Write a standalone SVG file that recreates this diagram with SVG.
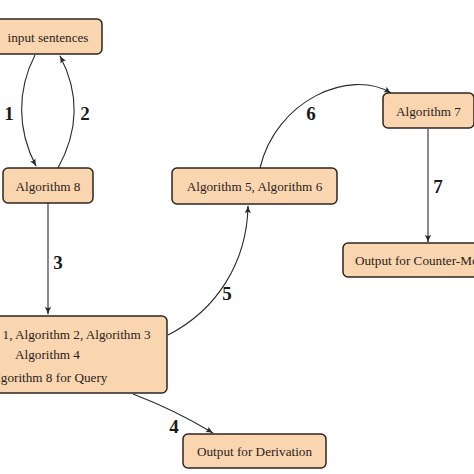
<svg xmlns="http://www.w3.org/2000/svg" width="474" height="474" viewBox="0 0 474 474">
<defs>
<style>
.box{fill:#F9D6AF;stroke:#2e2520;stroke-width:1.5}
.t{font-family:"Liberation Serif","DejaVu Serif",serif;font-size:13.2px;fill:#2a211c;text-anchor:middle}
.n{font-family:"Liberation Serif","DejaVu Serif",serif;font-size:19px;font-weight:bold;fill:#1a1a1a;text-anchor:middle}
.e{fill:none;stroke:#2a2a2a;stroke-width:1.1;marker-end:url(#ah)}
</style>
<marker id="ah" viewBox="0 0 10 8" refX="9" refY="4" markerWidth="8" markerHeight="6.4" markerUnits="userSpaceOnUse" orient="auto">
<path d="M0,0 Q5,3 10,4 Q5,5 0,8 Q3,4 0,0 z" fill="#2a2a2a"/>
</marker>
</defs>
<g id="connectors">
<path class="e" d="M35,55 C17,90 17,130 36,166"/>
<path class="e" d="M58,168 C79,130 79,92 60,56"/>
<path class="e" d="M48,203 L48,314"/>
<path class="e" d="M133,394 Q175,410 213,433"/>
<path class="e" d="M168,335 C217,310 247,262 248,206"/>
<path class="e" d="M260,168 C276,100 350,68 391,93"/>
<path class="e" d="M428,129 L428,242"/>
<text class="n" x="9" y="120">1</text>
<text class="n" x="85" y="120">2</text>
<text class="n" x="58" y="269">3</text>
<text class="n" x="174" y="433">4</text>
<text class="n" x="227" y="300">5</text>
<text class="n" x="311" y="120">6</text>
<text class="n" x="438" y="193">7</text>
</g>
<g id="input">
<rect class="box" x="-7" y="19" width="109" height="35" rx="5"/>
<text class="t" x="48" y="41.5">input sentences</text>
</g>
<g id="alg8">
<rect class="box" x="3" y="168" width="90" height="35" rx="5"/>
<text class="t" x="48" y="190.5">Algorithm 8</text>
</g>
<g id="alg123">
<rect class="box" x="-72" y="316" width="239" height="77" rx="5"/>
<text class="t" x="47.5" y="338.5">Algorithm 1, Algorithm 2, Algorithm 3</text>
<text class="t" x="47.5" y="358.5">Algorithm 4</text>
<text class="t" x="47.5" y="381.5">Algorithm 8 for Query</text>
</g>
<g id="derivation">
<rect class="box" x="183" y="434" width="143" height="34" rx="5"/>
<text class="t" x="254.5" y="455.5">Output for Derivation</text>
</g>
<g id="alg56">
<rect class="box" x="172" y="168" width="165" height="36" rx="5"/>
<text class="t" x="254.5" y="190.5">Algorithm 5, Algorithm 6</text>
</g>
<g id="alg7">
<rect class="box" x="383" y="93" width="91" height="35" rx="5"/>
<text class="t" x="428.5" y="115.5">Algorithm 7</text>
</g>
<g id="counter">
<rect class="box" x="343" y="243" width="170" height="34" rx="5"/>
<text class="t" x="355" y="264.5" style="text-anchor:start">Output for Counter-Model</text>
</g>
</svg>
